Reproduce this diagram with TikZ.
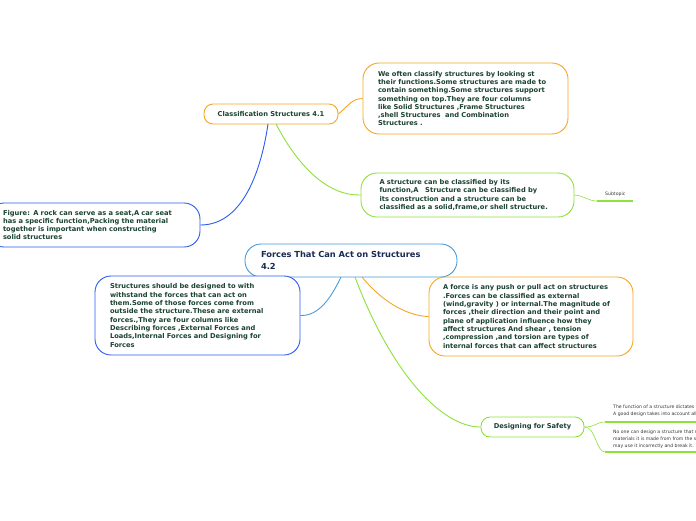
\documentclass[tikz,border=0pt]{standalone}
\usepackage{fontspec}
\setmainfont{DejaVu Sans}
\definecolor{txt}{HTML}{1B4332}
\definecolor{navy}{HTML}{1A2A55}
\definecolor{org}{HTML}{F5A623}
\definecolor{grn}{HTML}{8EE03A}
\definecolor{blu}{HTML}{2A5CF0}
\definecolor{lblu}{HTML}{4A9AD8}
\begin{document}
\begin{tikzpicture}[x=1pt,y=-1pt,
  box/.style={draw,line width=0.9pt,rounded corners=16pt,fill=white,text=txt,align=left,
    font=\bfseries\fontsize{6.7}{8.3}\selectfont,inner sep=0pt},
  small/.style={box,rounded corners=9pt},
  tiny/.style={text=black!80,align=left,anchor=north west,font=\fontsize{4.6}{7}\selectfont,inner sep=0pt},
  con/.style={line width=0.9pt}]
\useasboundingbox (0,0) rectangle (696,520);

\node[box,draw=lblu,text=navy,font=\bfseries\fontsize{8.3}{12}\selectfont,minimum width=212pt,minimum height=33pt,text width=180pt] (center) at (351,260.5) {Forces That Can Act on Structures\\4.2};

\node[small,draw=org,minimum width=134pt,minimum height=20pt,text width=120pt,align=center] (cls) at (271,114) {Classification Structures 4.1};

\node[box,draw=org,minimum width=205pt,minimum height=71pt,text width=175pt] (ob) at (465.5,98.5) {We often classify structures by looking st\\their functions.Some structures are made to\\contain something.Some structures support\\something on top.They are four columns\\like Solid Structures ,Frame Structures\\,shell Structures \ and Combination\\Structures .};

\node[box,draw=grn,minimum width=213pt,minimum height=44pt,text width=176pt] (gb) at (467.5,195) {A structure can be classified by its\\function,A \ \ Structure can be classified by\\its construction and a structure can be\\classified as a solid,frame,or shell structure.};

\node[tiny,font=\fontsize{4.6}{6}\selectfont] (sub) at (605,192) {Subtopic};
\coordinate (subL) at (597,201);
\coordinate (subR) at (633,201);

\node[box,draw=blu,minimum width=212pt,minimum height=44pt,text width=182pt] (fig) at (94,225) {Figure: A rock can serve as a seat,A car seat\\has a specific function,Packing the material\\together is important when constructing\\solid structures};

\node[box,draw=blu,minimum width=205pt,minimum height=79pt,text width=175pt] (st) at (197.5,315.5) {Structures should be designed to with\\withstand the forces that can act on\\them.Some of those forces come from\\outside the structure.These are external\\forces.,They are four columns like\\Describing forces ,External Forces and\\Loads,Internal Forces and Designing for\\Forces};

\node[box,draw=org,minimum width=204pt,minimum height=79pt,text width=176pt] (fb) at (531,316.5) {A force is any push or pull act on structures\\.Forces can be classified as external\\(wind,gravity ) or internal.The magnitude of\\forces ,their direction and their point and\\plane of application influence how they\\affect structures And shear , tension\\,compression ,and torsion are types of\\internal forces that can affect structures};

\node[small,draw=grn,minimum width=103pt,minimum height=20pt,text width=95pt,align=center] (ds) at (532.5,427) {Designing for Safety};

\node[tiny] (t1) at (613,405) {The function of a structure dictates its design.\\A good design takes into account all forces.};
\node[tiny] (t2) at (613,429.5) {No one can design a structure that never fails.\\materials it is made from from the start and users\\may use it incorrectly and break it.};
\coordinate (u1L) at (605,422); \coordinate (u1R) at (696,422);
\coordinate (u2L) at (605,452); \coordinate (u2R) at (696,452);

% connectors
\draw[con,blu] (268,124) .. controls (262,165) and (245,225) .. (fig.east);
\draw[con,grn] (276,124) .. controls (300,170) and (330,196) .. (gb.west);
\draw[con,org] (cls.east) .. controls (350,104) and (352,99) .. (ob.west);
\draw[con,lblu] (341,277) .. controls (330,300) and (318,316) .. (st.east);
\draw[con,org] (362,277) .. controls (385,305) and (410,316) .. (fb.west);
\draw[con,grn] (355,277) .. controls (390,370) and (440,427) .. (ds.west);
\draw[grn,line width=0.6pt] (gb.east) .. controls (585,196) and (588,201) .. (subL);
\draw[grn,line width=1.2pt] (subL) -- (subR);
\draw[grn,line width=0.6pt] (ds.east) .. controls (596,427) and (596,422) .. (u1L);
\draw[grn,line width=0.6pt] (ds.east) .. controls (596,427) and (596,452) .. (u2L);
\draw[grn,line width=1.2pt] (u1L) -- (u1R);
\draw[grn,line width=1.2pt] (u2L) -- (u2R);
\end{tikzpicture}
\end{document}
